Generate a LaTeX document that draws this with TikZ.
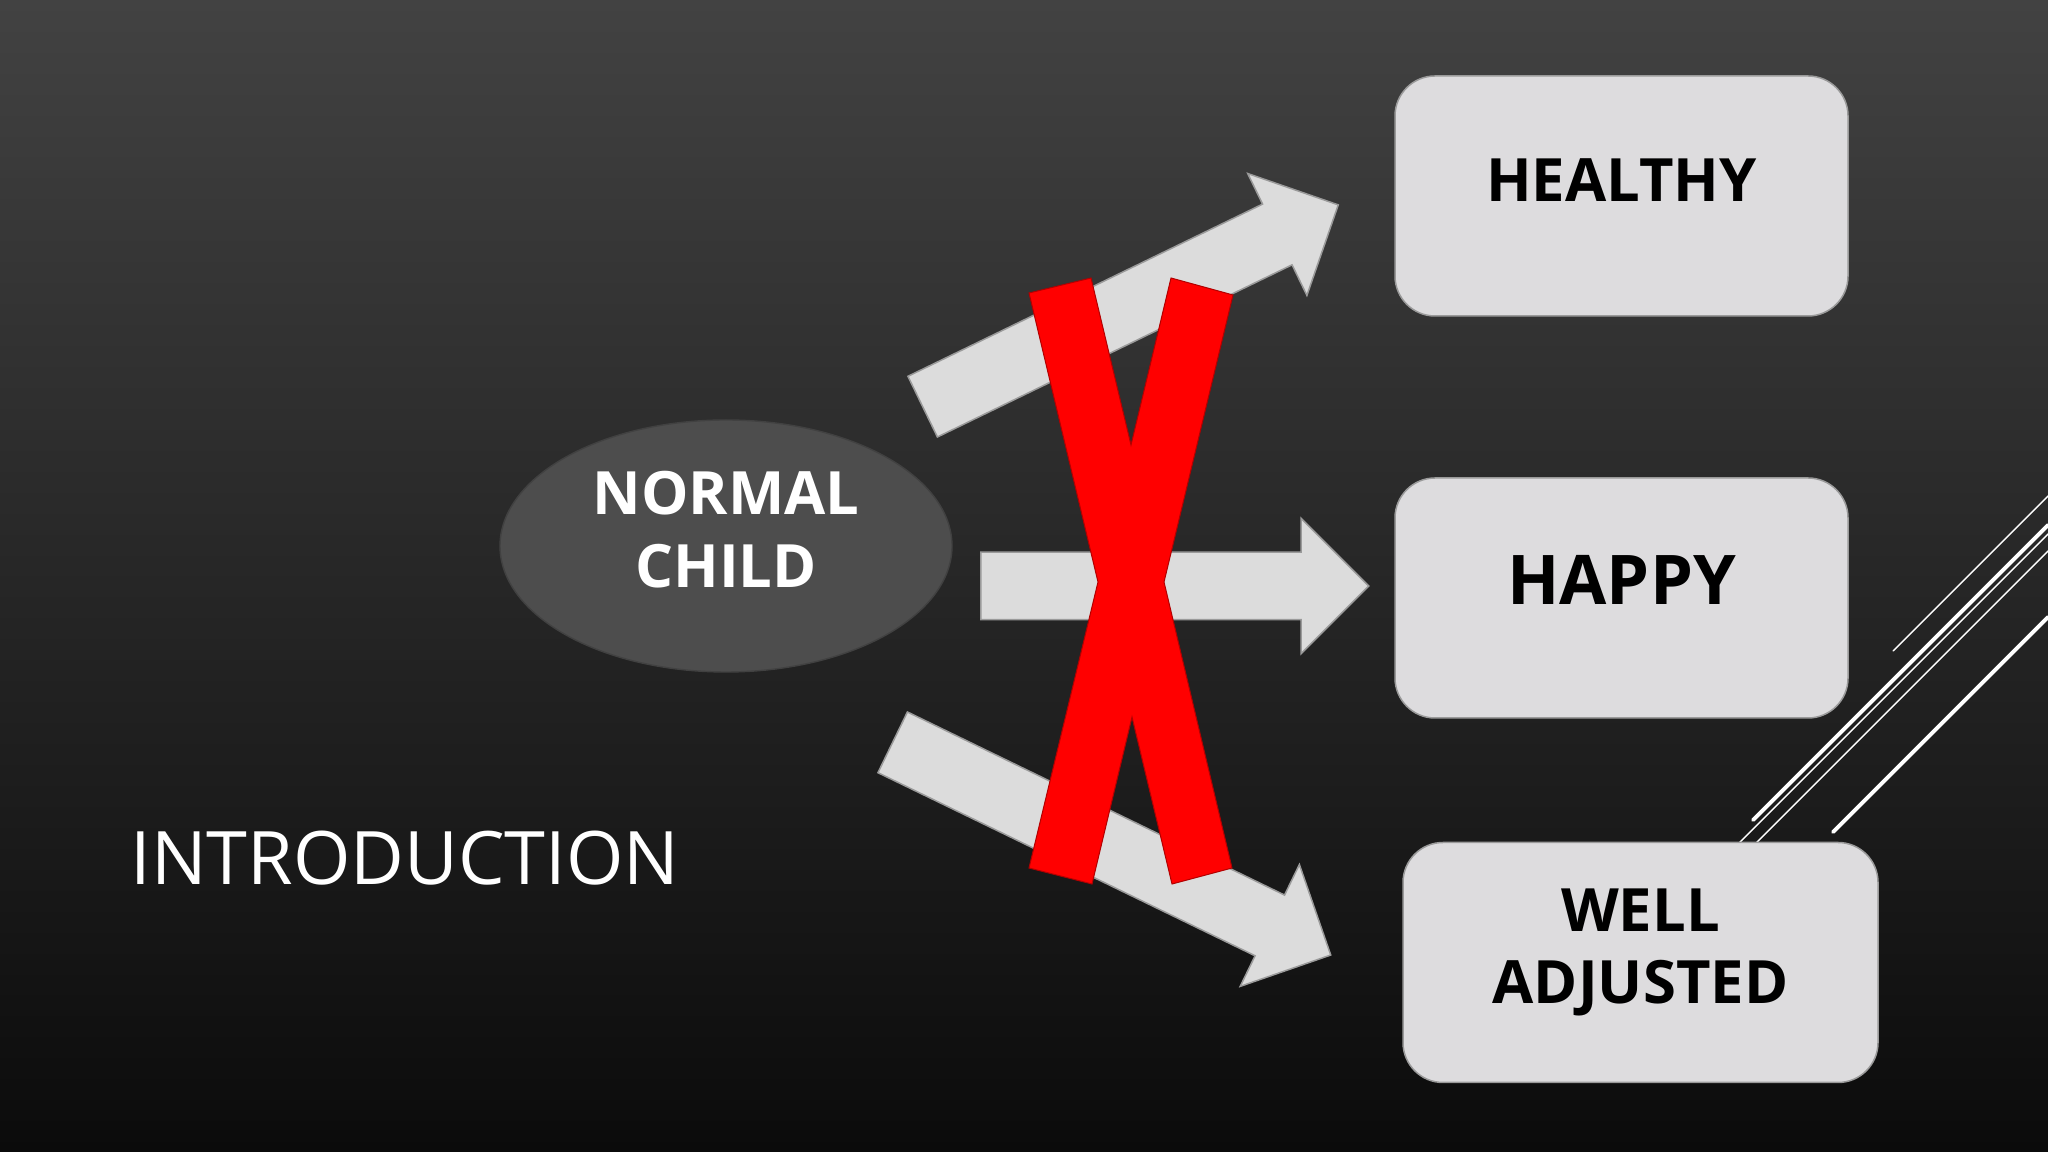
\documentclass[tikz,border=0pt]{standalone}
\usepackage{fontspec}
\setmainfont{Open Sans}
\usetikzlibrary{shapes.geometric}
\usetikzlibrary{shapes.arrows}
\usetikzlibrary{positioning}
\definecolor{bgtop}{HTML}{424242}
\definecolor{bgbottom}{HTML}{0B0B0B}
\definecolor{ovalfill}{HTML}{4D4D4D}
\definecolor{boxfill}{HTML}{DDDCDE}
\definecolor{boxedge}{HTML}{9A9A9A}
\definecolor{arrowfill}{HTML}{DCDCDC}
\definecolor{crossred}{HTML}{FF0000}
\tikzset{
	oval/.style={ellipse, fill=ovalfill, draw=ovalfill!85!black, minimum width=45.2mm, minimum height=25.2mm},
	outcome/.style={rectangle, draw=boxedge, fill=boxfill, line width=0.15mm, rounded corners=4mm, minimum width=45.3mm, minimum height=24mm},
	boxtext/.style={font=\fontsize{17}{20.7}\selectfont\bfseries, align=center, inner sep=0pt},
	blockarrow/.style={single arrow, draw=boxedge, fill=arrowfill, line width=0.15mm, inner sep=0pt, inner ysep=3.3mm, minimum width=13.4mm, single arrow head extend=3.4mm, single arrow tip angle=90, anchor=tail},
	cross/.style={draw=red!70!black, fill=crossred, line width=0.1mm},
	deco/.style={draw=white, line cap=round}
}

\begin{document}
\begin{tikzpicture}[x=0.1mm, y=-0.1mm]
\useasboundingbox (0,0) rectangle (2048,1152);
\shade[top color=bgtop, bottom color=bgbottom] (0,0) rectangle (2048,1152);

% lines in the corner
\draw[deco, line width=0.4pt] (1893,651) -- (2048,496);
\draw[deco, line width=1.1pt] (1753,820) -- (2048,525);
\draw[deco, line width=0.4pt] (1730,852) -- (2048,534);
\draw[deco, line width=0.4pt] (1747,852) -- (2048,551);
\draw[deco, line width=1.1pt] (1833,832) -- (2048,617);

\node[oval] (child) at (726,546) {};
\node[boxtext, text=white] (childtext) at ([yshift=1.6mm]child.center) {NORMAL\\CHILD};

\node[outcome] (healthy) at (1621.5,196) {};
\node[outcome, below of=healthy, node distance=40.2mm] (happy) {};
\node[outcome, minimum width=47.5mm, below of=happy, node distance=36.45mm, xshift=1.9mm] (adjusted) {};

\node[boxtext] (healthytext) at ([yshift=1.6mm]healthy.center) {HEALTHY};
\node[boxtext, font=\fontsize{19.5}{24}\selectfont\bfseries] (happytext) at ([yshift=1.8mm]happy.center) {HAPPY};
\node[boxtext] (adjustedtext) at ([yshift=1.0mm]adjusted.center) {WELL\\ADJUSTED};

\node[blockarrow, minimum height=46.2mm, rotate=25.9] (uparrow) at (922,407) {};
\node[blockarrow, minimum height=38.8mm] (midarrow) at (980,586) {};
\node[blockarrow, minimum height=48.7mm, rotate=-25.9] (downarrow) at (892,742) {};

% the red cross
\draw[cross] (1029,293) -- (1091,278) -- (1131,445) -- (1171,278) -- (1233,295)
	-- (1164,582) -- (1232,868) -- (1172,884) -- (1132,717) -- (1092,884)
	-- (1029,868) -- (1098,582) -- cycle;

\node[font=\fontsize{21}{25}\selectfont, text=white, anchor=base west, inner sep=0pt] (title) at (130,885) {INTRODUCTION};

\end{tikzpicture}
\end{document}
